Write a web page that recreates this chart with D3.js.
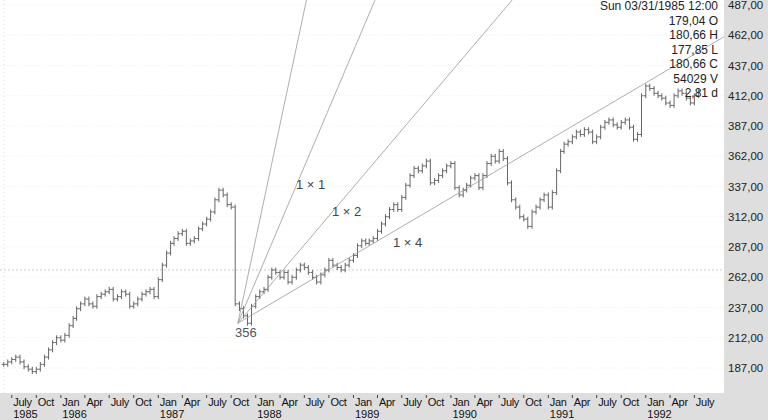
<!DOCTYPE html>
<html><head><meta charset="utf-8">
<script src="https://cdn.jsdelivr.net/npm/d3@7"></script>
<style>body{margin:0;background:#fff}svg{font-family:"Liberation Sans",Arial,sans-serif}</style>
</head><body><svg id="c" width="768" height="420"></svg>
<script>
const startMonth = "1985-06";
const closes = [
190,192,194,196,192,188,186,184,186,190,196,202,208,212,
210,214,222,228,236,240,244,240,238,246,248,250,252,244,246,250,248,238,240,244,248,250,252,246,
260,272,282,290,294,298,300,290,292,294,302,306,310,316,326,334,330,322,320,240,236,230,224,238,
246,250,252,262,268,266,262,266,258,262,268,272,270,266,262,258,264,268,276,272,270,268,272,276,
280,288,292,290,292,294,300,306,312,318,322,318,328,338,346,352,350,354,358,340,342,346,350,354,
356,336,330,334,338,344,346,336,346,356,362,358,366,360,340,326,320,312,310,304,316,320,326,330,
320,332,350,366,372,374,378,382,380,384,382,374,378,386,390,392,388,386,390,392,386,376,380,412,
420,418,414,412,410,406,404,412,416,414,410,406,412,416];
const yTicks = [187,212,237,262,287,312,337,362,387,412,437,462,487];
const xTickLabels = ["July","Oct","Jan","Apr","July","Oct","Jan","Apr","July","Oct","Jan","Apr","July","Oct","Jan","Apr","July","Oct","Jan","Apr","July","Oct","Jan","Apr","July","Oct","Jan","Apr","July"];
const xTickYears = {2:"1986",6:"1987",10:"1988",14:"1989",18:"1990",22:"1991",26:"1992",0:"1985"};
const fanRatios = [1,2,4,8];
const fanLabels = {1:"1 \u00d7 4",2:"1 \u00d7 2",4:"1 \u00d7 1"};
const pivotDate = "1987-10-26", pivotPrice = 224, pivotLabel = "356";
const baseRate = 0.13; // price per day for the 1x4 line
const levelLine = 268;
const infoLines = ["Sun 03/31/1985 12:00","179,04 O","180,66 H","177,85 L","180,66 C","54029 V","2,81 d"];

const svg = d3.select("#c");
const W=768,H=420,PR=724,PB=393;
const x = d3.scaleTime().domain([new Date(1985,4,18), new Date(1992,9,20)]).range([0,PR]);
const y = d3.scaleLinear().domain([187,487]).range([368,5]);
svg.append("rect").attr("x",PR).attr("y",0).attr("width",W-PR).attr("height",H).attr("fill","#dedede");
svg.append("rect").attr("x",0).attr("y",PB).attr("width",W).attr("height",H-PB).attr("fill","#dedede");
const plot = svg.append("g");
plot.append("defs").append("clipPath").attr("id","cp").append("rect").attr("width",PR).attr("height",PB);
yTicks.forEach(t=>plot.append("line").attr("x1",0).attr("x2",PR).attr("y1",y(t)).attr("y2",y(t)).attr("stroke","#eee").attr("stroke-dasharray","1,2"));
plot.append("line").attr("x1",0).attr("x2",PR).attr("y1",y(levelLine)).attr("y2",y(levelLine)).attr("stroke","#ccc").attr("stroke-dasharray","2,2");
plot.append("line").attr("x1",4).attr("x2",4).attr("y1",0).attr("y2",PB).attr("stroke","#ddd").attr("stroke-dasharray","1,3");
const [sy,sm]=startMonth.split("-").map(Number);
const bars = closes.map((c,i)=>{const d=new Date(sy,sm-1+Math.floor(i/2),i%2?16:1);const o=i?closes[i-1]:c;return{d,o,c,h:Math.max(o,c)+2,l:Math.min(o,c)-2};});
const g=plot.append("g").attr("stroke","#666").attr("stroke-width",1);
bars.forEach(b=>{const px=x(b.d);
 g.append("line").attr("x1",px).attr("x2",px).attr("y1",y(b.h)).attr("y2",y(b.l));
 g.append("line").attr("x1",px-2).attr("x2",px).attr("y1",y(b.o)).attr("y2",y(b.o));
 g.append("line").attr("x1",px).attr("x2",px+2).attr("y1",y(b.c)).attr("y2",y(b.c));});
const pd=new Date(pivotDate), day=864e5;
const fan=plot.append("g").attr("clip-path","url(#cp)");
fanRatios.forEach(r=>{const d2=new Date(1993,0,1);const p2=pivotPrice+baseRate*r*(d2-pd)/day;
 fan.append("line").attr("x1",x(pd)).attr("y1",y(pivotPrice)).attr("x2",x(d2)).attr("y2",y(p2)).attr("stroke","#999").attr("stroke-width",0.8);});
const labPos={1:[393,247],2:[332,216],4:[296,189]};
Object.keys(fanLabels).forEach(k=>plot.append("text").attr("x",labPos[k][0]).attr("y",labPos[k][1]).attr("font-size",13).attr("fill","#444").text(fanLabels[k]));
plot.append("text").attr("x",x(pd)+8).attr("y",y(pivotPrice)+14).attr("text-anchor","middle").attr("font-size",13).attr("fill","#555").text(pivotLabel);
infoLines.forEach((t,i)=>svg.append("text").attr("x",718).attr("y",10+i*14.5).attr("text-anchor","end").attr("font-size",12).attr("fill","#222").text(t));
yTicks.forEach(t=>svg.append("text").attr("x",728).attr("y",y(t)+4).attr("font-size",11.5).attr("fill","#222").text(t+",00"));
xTickLabels.forEach((t,i)=>{const d=new Date(1985,6+i*3,1);const px=x(d);
 svg.append("text").attr("x",px+1.5).attr("y",406).attr("font-size",11).attr("letter-spacing",-0.3).attr("fill","#111").text(t);
 svg.append("line").attr("x1",px).attr("x2",px).attr("y1",395).attr("y2",398).attr("stroke","#444");
 if(xTickYears[i]) svg.append("text").attr("x",px+1.5).attr("y",418).attr("font-size",11).attr("fill","#111").text(xTickYears[i]);});
</script></body></html>
